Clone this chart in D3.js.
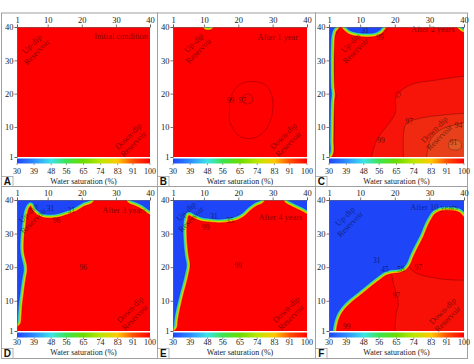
<!DOCTYPE html>
<html><head><meta charset="utf-8">
<script src="https://cdn.jsdelivr.net/npm/d3@7/dist/d3.min.js"></script>
<style>html,body{margin:0;padding:0;background:#fff;}svg{display:block;}</style>
</head><body>
<script>
// ---------------- data (grid coordinates: x 1..40, y 1..40) ----------------
const xTicks = [1, 10, 20, 30, 40];
const yTicks = [1, 10, 20, 30, 40];
const cbValues = [30, 39, 48, 56, 65, 74, 83, 91, 100];
const cbColors = ["#1e46f8","#2e8cff","#3ce4e8","#3ce450","#6cdc00","#bce600","#ffc800","#ff5000","#ff0000"];
const panelLetters = ["A","B","C","D","E","F"];
const panelTitles = ["Initial condition","After 1 year","After 2 years","After 3 years","After 4 years","After 10 years"];
const titleAt = [[39.4,37.3],[37.4,37.0],[37.3,39.4],[38.8,37.0],[38.6,34.9],[38.3,37.9]];
const upDipAt = [[6.0,33.7],[7.7,34.1],[7.9,34.1],[5.0,35.0],[5.5,35.5],[6.3,34.0]];
const downDipAt = [[34.3,6.1],[33.8,6.1],[32.1,8.1],[34.8,6.3],[34.6,6.3],[34.5,5.8]];

// swept (low water-saturation, ~30%) zones
const frontsA = [];
const frontsB = [
  [[10.3,41.5],[10.6,40.4],[11.2,40.15],[11.8,40.4],[12.1,41.5]]
];
const frontsC = [
  [[-1,41],[3.2,41],[2.9,40.1],[2.2,39.2],[1.7,37.5],[1.45,33],[1.4,27],[1.5,22],[1.7,20],[1.5,17.5],[1.35,12],[1.25,6],[1.1,2],[-1,1.5]],
  [[5.3,41],[5.9,40],[7.2,38.9],[9.5,38.3],[12,38.1],[14.2,38.3],[15.6,39],[16.4,40],[16.8,41]],
  [[38.6,41],[39.1,40.2],[40,39.5],[41,39.2],[41,41]]
];
const frontsD = [
  [[-1,41],[22.6,41],[22.4,40.0],[20.5,39.3],[18.0,37.8],[15.6,36.8],[13.2,36.0],[10.8,35.7],[8.4,36.0],[6.8,37.2],[5.8,38.9],[5.0,39.4],[4.1,38.9],[3.3,37.5],[2.9,36.0],[2.4,32.1],[2.0,29.1],[1.9,25.1],[2.2,23.1],[2.8,20.6],[2.9,19.1],[2.4,16.1],[2.0,13.1],[1.5,9.1],[1.2,5.1],[1.0,3.6],[-1,3.0]],
  [[34.0,41],[34.3,40.0],[35.8,39.4],[37.7,38.5],[39.1,37.5],[40.6,36.5],[41,36.3],[41,41]]
];
const frontsE = [
  [[-1,41],[26.8,41],[26.5,40.0],[24.8,39.2],[22.9,37.8],[21.0,36.0],[19.1,35.0],[16.7,34.5],[14.3,34.3],[11.9,34.5],[9.5,34.8],[7.4,35.7],[5.7,36.5],[4.7,36.0],[4.2,34.5],[3.96,32.1],[3.96,29.1],[4.15,26.1],[4.5,23.1],[4.9,20.6],[4.5,18.2],[3.8,15.2],[3.0,12.2],[2.3,9.2],[1.67,6.3],[1.29,3.8],[1.09,2.3],[-1,1.5]],
  [[34.0,41],[34.4,40.0],[35.8,39.2],[37.2,38.5],[38.7,37.8],[40.1,37.0],[41,36.6],[41,41]]
];
const frontsF = [
  [[-1,41],[41,41],[41.2,35.5],[39.3,37.2],[37.9,37.8],[36.0,38.0],[34.0,38.0],[32.1,37.5],[30.7,36.5],[29.7,35.0],[28.7,33.1],[27.3,29.6],[25.8,26.6],[24.4,23.6],[23.4,21.1],[22.5,20.0],[21.0,19.4],[19.1,19.2],[17.2,18.7],[15.7,17.7],[13.8,16.2],[11.4,14.2],[9.0,12.2],[6.6,10.2],[4.7,8.2],[3.2,5.8],[2.4,3.3],[2.06,1.0],[2.0,-1],[-1,-1]]
];

// shaded saturation zones (level, polygon)
const zoneLevelsC = [99, 99, 99, 97, 94, 91];
const zonePolysC = [
  [[4.2,41],[4.2,40],[2.8,37.1],[2.6,28.1],[2.7,21.1],[3.1,19.5],[2.6,17.1],[2.5,8.1],[2.4,1],[2.4,0],[0,0],[0,41]],
  [[5.0,41],[5.3,40],[7.1,37.8],[10.9,37.3],[14.8,37.3],[16.7,38.1],[18.2,40],[18.4,41]],
  [[13.0,0],[13.3,1],[14.8,6.1],[20.1,14.1],[20.4,19.1],[24.4,22.6],[32.1,24.1],[40,25.3],[41,25.4],[41,0]],
  [[22.5,0],[22.5,1],[22.6,8.6],[23.4,11.1],[27.3,12.6],[34,13.6],[40,14.1],[41,14.2],[41,0]],
  [[29.0,0],[29.2,1],[30.3,6.1],[33.2,9.1],[37.1,10.6],[40,11.3],[41,11.4],[41,0]],
  [[35.5,4.6],[36,5.8],[37.4,6.1],[38.8,5.7],[39.3,4.6],[38.8,3.4],[37.4,3.1],[36,3.4]]
];
const zoneLevelsF = [98];
const zonePolysF = [
  [[19.1,19.2],[19.1,17.9],[19.6,15.2],[20.7,11.2],[21.0,8.7],[20.4,6.3],[20.1,1.0],[20.1,0],[41,0],[41,16.2],[36.9,16.2],[32.1,16.7],[26.3,18.2],[24.2,20.2],[24.4,22.9],[24.4,23.6],[22.5,20.0]]
];

// contour lines
const loopsB = [
  [[17.4,14.1],[17.7,18.1],[19.2,21.6],[21.6,23.3],[25.0,23.6],[28.0,22.6],[29.7,19.6],[30.1,16.1],[29.4,12.1],[27.5,8.6],[24.1,6.6],[20.6,7.1],[18.4,9.6],[17.4,12.1]],
  [[21.2,18.4],[21.6,19.5],[22.7,19.9],[23.8,19.5],[24.2,18.4],[23.8,17.3],[22.7,16.9],[21.6,17.3]]
];
const linesC = [
  [[4.2,40],[2.8,37.1],[2.6,28.1],[2.7,21.1],[3.1,19.5],[2.6,17.1],[2.5,8.1],[2.4,1]],
  [[5.3,40],[7.1,37.8],[10.9,37.3],[14.8,37.3],[16.7,38.1],[18.2,40]],
  [[13.3,1],[14.8,6.1],[20.1,14.1],[20.4,19.1],[24.4,22.6],[32.1,24.1],[40,25.3]],
  [[22.5,1],[22.6,8.6],[23.4,11.1],[27.3,12.6],[34,13.6],[40,14.1]],
  [[29.2,1],[30.3,6.1],[33.2,9.1],[37.1,10.6],[40,11.3]]
];
const loopsC = [
  [[35.5,4.6],[36,5.8],[37.4,6.1],[38.8,5.7],[39.3,4.6],[38.8,3.4],[37.4,3.1],[36,3.4]],
  [[20.2,19.6],[20.5,20.3],[21.0,20.5],[21.6,20.2],[21.7,19.5],[21.2,18.9],[20.6,19.0]]
];
const linesF = [
  [[13.3,18.0],[13.6,21.2],[15.5,21.8],[18.0,21.3],[20.5,20.3]],
  [[19.1,17.9],[19.6,15.2],[20.7,11.2],[21.0,8.7],[20.4,6.3],[20.1,1.0]],
  [[24.4,22.9],[24.2,20.2],[26.3,18.2],[32.1,16.7],[36.9,16.2],[40,16.2]]
];

// contour labels [x, y, text]
const labelsA = [];
const labelsB = [[17.7,18.1,"99"],[21.2,18.1,"97"]];
const labelsC = [[11.4,38.9,"31"],[15.7,36.9,"99"],[24.2,11.6,"97"],[16.0,5.9,"99"],[38.4,10.6,"94"],[37.0,5.5,"91"]];
const labelsD = [[10.8,37.5,"31"],[16.9,36.8,"31"],[12.6,33.8,"96"],[20.4,20.0,"96"]];
const labelsE = [[12.9,35.0,"31"],[17.6,33.8,"35"],[10.5,31.9,"99"],[20.0,20.6,"99"]];
const labelsF = [[14.8,22.1,"31"],[17.2,19.4,"45"],[21.7,19.4,"58"],[26.8,20.0,"97"],[20.4,11.7,"97"],[6.1,2.3,"99"]];

const allFronts = [frontsA, frontsB, frontsC, frontsD, frontsE, frontsF];
const allZoneLevels = [[], [], zoneLevelsC, [], [], zoneLevelsF];
const allZonePolys = [[], [], zonePolysC, [], [], zonePolysF];
const allLines = [[], [], linesC, [], [], linesF];
const allLoops = [[], loopsB, loopsC, [], [], []];
const allLabels = [labelsA, labelsB, labelsC, labelsD, labelsE, labelsF];

// ---------------- layout ----------------
const colX = [[17,150],[173,307],[329,464]];
const rowY = [[27,157],[200,331]];
const frameX = [[1,157],[157,315],[315,467]];
const frameY = [[12.5,186],[186,358]];
const cbLabelY = [174.3, 345.2];
const cbTitleY = [184.3, 355.2];

const serif = "'Liberation Serif','Times New Roman',serif";
const svg = d3.select("body").append("svg").attr("width",474).attr("height",364)
  .style("font-family", serif);
const defs = svg.append("defs");
const cScale = d3.scaleLinear().domain(cbValues).range(cbColors);
const zoneColor = d3.scaleLinear().domain([91,94,97,98,99]).range(["#e05a26","#e8401a","#ef2a10","#f81006","#f71408"]);

const grad = defs.append("linearGradient").attr("id","cbar");
d3.range(30,100.01,1).forEach(v => grad.append("stop").attr("offset",(v-30)/70).attr("stop-color",cScale(v)));

const bandVals = [90, 82, 72, 60, 50, 41];
const bandWidths = [7.4, 6.2, 5.0, 3.8, 2.6, 1.5];

panelLetters.forEach((letter, i) => {
  const c = i % 3, r = Math.floor(i / 3);
  const g = svg.append("g");
  const x = d3.scaleLinear().domain([1,40]).range(colX[c]);
  const y = d3.scaleLinear().domain([1,40]).range([rowY[r][1], rowY[r][0]]);
  const closed = d3.line().x(d => x(d[0])).y(d => y(d[1])).curve(d3.curveCatmullRomClosed.alpha(0.5));
  const open = d3.line().x(d => x(d[0])).y(d => y(d[1])).curve(d3.curveCatmullRom.alpha(0.5));

  // frame
  g.append("rect").attr("x",frameX[c][0]+0.5).attr("y",frameY[r][0]+0.5)
    .attr("width",frameX[c][1]-frameX[c][0]).attr("height",frameY[r][1]-frameY[r][0])
    .attr("fill","none").attr("stroke","#a0a0a0").attr("stroke-width",1);

  // plot clip
  const cid = "clip" + i;
  defs.append("clipPath").attr("id",cid).append("rect")
    .attr("x",x(1)).attr("y",y(40)).attr("width",x(40)-x(1)).attr("height",y(1)-y(40));
  const plot = g.append("g").attr("clip-path",`url(#${cid})`);
  plot.append("rect").attr("x",x(1)).attr("y",y(40)).attr("width",x(40)-x(1)).attr("height",y(1)-y(40))
    .attr("fill",cScale(100));

  // shaded zones
  allZonePolys[i].forEach((p, k) => {
    plot.append("path").attr("d",closed(p)).attr("fill",zoneColor(allZoneLevels[i][k])).attr("stroke","none");
  });

  // contour lines in red domain
  const lineStyle = sel => sel.attr("fill","none").attr("stroke","#000").attr("stroke-opacity",0.42).attr("stroke-width",0.6);
  allLines[i].forEach(l => plot.append("path").attr("d",open(l)).call(lineStyle));
  allLoops[i].forEach(l => plot.append("path").attr("d",closed(l)).call(lineStyle));

  // water fronts
  const fronts = allFronts[i];
  fronts.forEach(f => plot.append("path").attr("d",closed(f)).attr("fill","none")
      .attr("stroke","#000").attr("stroke-opacity",0.3).attr("stroke-width",8.4).attr("stroke-linejoin","round"));
  fronts.forEach(f => plot.append("path").attr("d",closed(f)).attr("fill","none")
      .attr("stroke",cScale(100)).attr("stroke-width",7.8).attr("stroke-linejoin","round"));
  bandVals.forEach((v, k) => {
    fronts.forEach(f => plot.append("path").attr("d",closed(f)).attr("fill","none")
      .attr("stroke",cScale(v)).attr("stroke-width",bandWidths[k]).attr("stroke-linejoin","round"));
  });
  fronts.forEach(f => plot.append("path").attr("d",closed(f)).attr("fill",cScale(30))
      .attr("stroke","#000").attr("stroke-opacity",0.3).attr("stroke-width",0.5));

  // contour labels
  plot.selectAll("text.cl").data(allLabels[i]).join("text").attr("class","cl")
    .attr("x",d => x(d[0])).attr("y",d => y(d[1])).attr("dy","0.35em")
    .attr("text-anchor","middle").attr("font-size","7.5px")
    .attr("fill","#000").attr("fill-opacity",0.6).text(d => d[2]);

  // titles & reservoir labels
  const txt = sel => sel.attr("fill","#000").attr("fill-opacity",0.5).attr("font-size","8.4px");
  g.append("text").attr("x",x(titleAt[i][0])).attr("y",y(titleAt[i][1])).attr("dy","0.35em")
    .attr("text-anchor","end").call(txt).text(panelTitles[i]);
  const rot = (pos, l1, l2) => {
    const t = g.append("g").attr("transform",`translate(${x(pos[0])},${y(pos[1])}) rotate(-45)`);
    t.append("text").attr("x",1).attr("y",-1.5).attr("text-anchor","middle").call(txt).text(l1);
    t.append("text").attr("x",-1).attr("y",7.5).attr("text-anchor","middle").call(txt).text(l2);
  };
  rot(upDipAt[i], "Up-dip", "Reservoir");
  rot(downDipAt[i], "Down-dip", "Reservoir");

  // axes
  const axT = g.append("g").attr("transform",`translate(0,${y(40)})`)
    .call(d3.axisTop(x).tickValues(xTicks).tickSize(2.5).tickPadding(1.5));
  const axL = g.append("g").attr("transform",`translate(${x(1)},0)`)
    .call(d3.axisLeft(y).tickValues(yTicks).tickSize(2.5).tickPadding(1));
  [axT, axL].forEach(a => {
    a.selectAll("text").attr("font-family",serif).attr("font-size","8.5px").attr("fill","#222");
    a.selectAll("line").attr("stroke","#444").attr("stroke-width",0.7);
    a.select(".domain").attr("stroke","#666").attr("stroke-width",0.6);
  });

  // colorbar
  const cb = d3.scaleLinear().domain([30,100]).range(colX[c]);
  g.append("rect").attr("x",cb(30)).attr("y",rowY[r][1]+1.5).attr("width",cb(100)-cb(30)).attr("height",5)
    .attr("fill","url(#cbar)");
  g.selectAll("line.cbt").data(cbValues).join("line").attr("class","cbt")
    .attr("x1",d => cb(d)).attr("x2",d => cb(d)).attr("y1",rowY[r][1]+6.5).attr("y2",rowY[r][1]+8)
    .attr("stroke","#444").attr("stroke-width",0.6);
  g.selectAll("text.cbl").data(cbValues).join("text").attr("class","cbl")
    .attr("x",d => cb(d)).attr("y",cbLabelY[r]).attr("text-anchor","middle")
    .attr("font-size","8px").attr("fill","#222").text(d => d);
  g.append("text").attr("x",(colX[c][0]+colX[c][1])/2).attr("y",cbTitleY[r]).attr("text-anchor","middle")
    .attr("font-size","8px").attr("fill","#222").text("Water saturation (%)");

  // panel letter
  g.append("rect").attr("x",frameX[c][0]+0.5).attr("y",frameY[r][1]-9.5).attr("width",11.5).attr("height",10)
    .attr("fill","#fff").attr("stroke","#a0a0a0").attr("stroke-width",0.8);
  g.append("text").attr("x",frameX[c][0]+6.3).attr("y",frameY[r][1]-1).attr("text-anchor","middle")
    .attr("font-family","'Liberation Sans',Arial,sans-serif").attr("font-weight","bold").attr("font-size","10px")
    .attr("fill","#111").text(letter);
});
</script>
</body></html>
